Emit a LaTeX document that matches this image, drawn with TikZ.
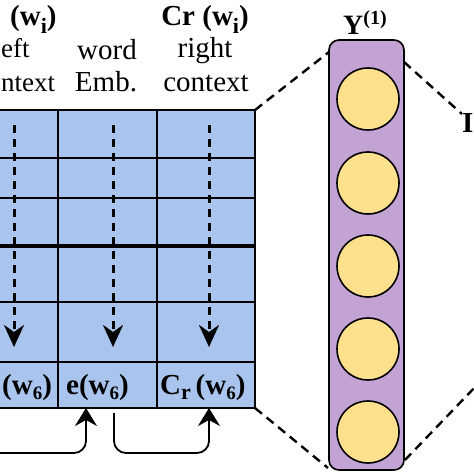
\documentclass[tikz,border=0pt]{standalone}
\usepackage{fontspec}
\setmainfont{Liberation Serif}
\usetikzlibrary{arrows.meta}
\definecolor{gridblue}{HTML}{A9C5EE}
\definecolor{colpurple}{HTML}{C3A3D4}
\definecolor{cyellow}{HTML}{FFE18D}
\newcommand\mysub[2][19]{\raisebox{-5pt}{\fontsize{#1}{#1}\selectfont #2}}
\begin{document}
\begin{tikzpicture}[x=1pt,y=-1pt,
  lbl/.style={font=\fontsize{29}{32}\selectfont, inner sep=0pt},
  blbl/.style={font=\bfseries\fontsize{29}{32}\selectfont, inner sep=0pt},
  gridline/.style={line width=1.6pt},
  thickgrid/.style={line width=3.2pt},
  flow/.style={-{Stealth[length=22pt,width=20pt,inset=7pt]}, line width=3pt, dash pattern=on 8pt off 6pt},
  loopline/.style={-{Stealth[length=18pt,width=22pt,inset=6pt]}, line width=1.8pt, rounded corners=12pt},
  zoomline/.style={line width=2.4pt, dash pattern=on 9pt off 6pt},
  unit/.style={circle, draw, line width=1.6pt, fill=cyellow, minimum size=62pt, inner sep=0pt},
]
\useasboundingbox (0,0) rectangle (474,474);
\clip (0,0) rectangle (474,474);
% grid
\fill[gridblue] (-10,110) rectangle (255,408);
\foreach \yy in {110,158,198,302,362,408} \draw[gridline] (-10,\yy) -- (255,\yy);
\draw[thickgrid] (-10,246) -- (255,246);
\foreach \xx in {58,157,255} \draw[gridline] (\xx,110) -- (\xx,408);
\coordinate (gtr) at (255,110);
\coordinate (gbr) at (255,408);
% dashed flow arrows
\foreach \xx/\nm in {14/a,113/b,209/c}{
  \coordinate (\nm s) at (\xx,125);
  \coordinate (\nm e) at (\xx,347);
  \draw[flow] (\nm s) -- (\nm e);
}
% bottom labels
\node[blbl, anchor=base west] (lw6) at (2,394) {(w\mysub{6})};
\node[blbl, anchor=base west] (ew6) at (66,394) {e(w\mysub{6})};
\node[blbl, anchor=base west] (crw6) at (160,394) {C\mysub[22]{r}\,(w\mysub{6})};
% top labels
\node[blbl, anchor=base west] (lwi) at (10,25) {(w\raisebox{-8pt}{\fontsize{22}{22}\selectfont i})};
\node[blbl, anchor=base] (crwi) at (205,25) {Cr (w\raisebox{-8pt}{\fontsize{22}{22}\selectfont i})};
\node[lbl, anchor=base west, font=\fontsize{27}{30}\selectfont] (left) at (1,57) {eft};
\node[lbl, anchor=base west, font=\fontsize{27}{30}\selectfont] (lctx) at (1,91) {ntext};
\node[lbl, anchor=base] (word) at (107,59) {word};
\node[lbl, anchor=base] (emb) at (106,91) {Emb.};
\node[lbl, anchor=base] (right) at (205,57) {right};
\node[lbl, anchor=base] (rctx) at (206,91) {context};
% bottom connectors
\coordinate (l0) at (-10,453);
\coordinate (l1) at (86,453);
\coordinate (lend) at (86,408);
\draw[loopline] (l0) -- (l1) -- (lend);
\coordinate (r0) at (114,413);
\coordinate (r1) at (114,453);
\coordinate (r2) at (209,453);
\coordinate (rend) at (209,408);
\draw[loopline] (r0) -- (r1) -- (r2) -- (rend);
% column
\draw[line width=1.6pt, fill=colpurple, rounded corners=10pt] (329,40) rectangle (404,470);
\foreach \cy [count=\i] in {99,183,266,349,432} \node[unit] (u\i) at (368,\cy) {};
\node[blbl, anchor=base west, font=\bfseries\fontsize{28}{30}\selectfont] (ylab) at (343,34) {Y\raisebox{10pt}{\fontsize{20}{20}\selectfont(1)}};
\node[blbl, anchor=base west] (nextlab) at (462,132) {I};
% zoom lines
\coordinate (ctl) at (329,52);
\coordinate (ctr) at (404,62);
\coordinate (cbl) at (328,468);
\coordinate (cbr) at (405,460);
\coordinate (rtop) at (462,114);
\coordinate (rbot) at (478,384);
\draw[zoomline] (gtr) -- (ctl);
\draw[zoomline] (ctr) -- (rtop);
\draw[zoomline] (gbr) -- (cbl);
\draw[zoomline] (cbr) -- (rbot);
\end{tikzpicture}
\end{document}
